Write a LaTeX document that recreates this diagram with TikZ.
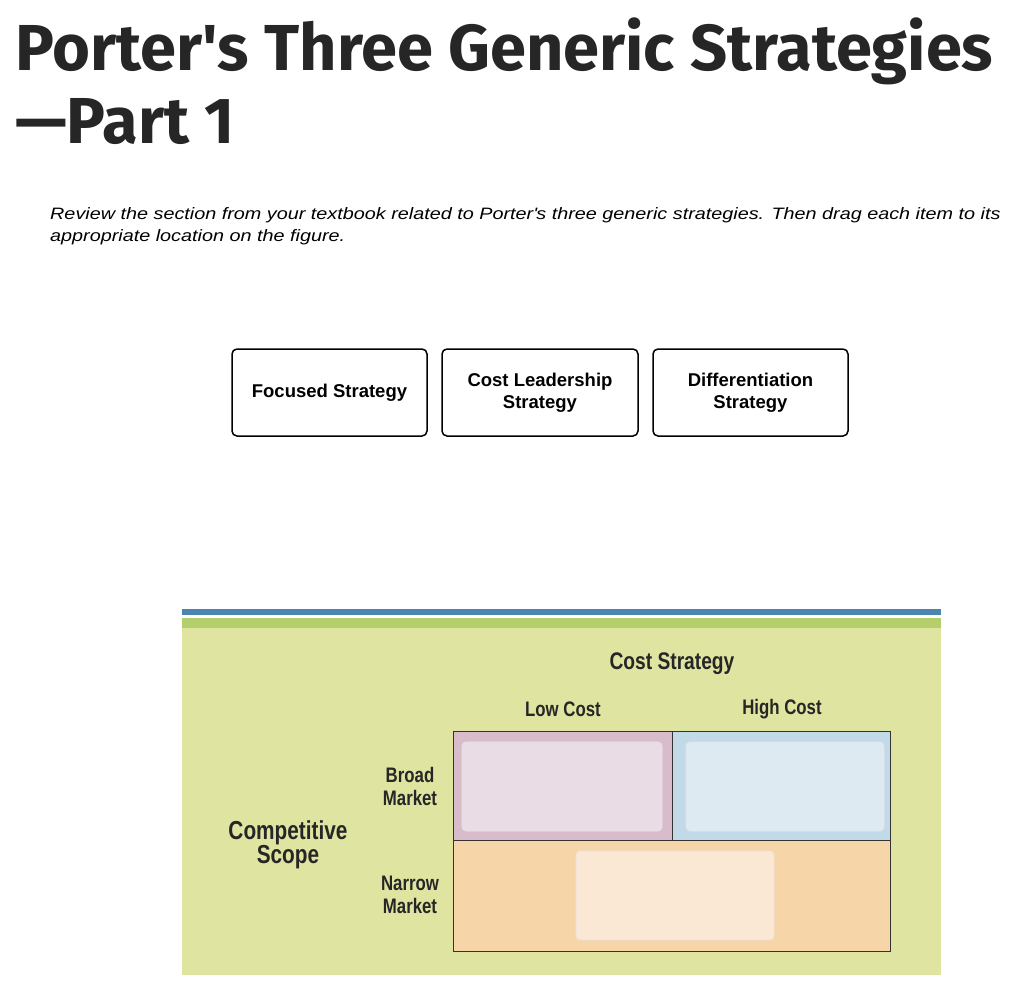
\documentclass[tikz,border=0pt]{standalone}
\usepackage{fontspec}
\setmainfont{Liberation Sans}
\newfontfamily\titlefont{Fira Sans}
\newfontfamily\instrfont[FakeStretch=1.2]{Liberation Sans}
\newfontfamily\condfont[FakeStretch=0.8]{Liberation Sans}
\begin{document}
\begin{tikzpicture}[x=1pt,y=-1pt,
  btn/.style={draw=black,line width=1.5pt,rounded corners=5pt,font=\bfseries\fontsize{18.5}{22}\selectfont,align=center},
  cond/.style={font=\condfont\bfseries\fontsize{24}{24}\selectfont,align=center,text=black!85},
  condsm/.style={font=\condfont\bfseries\fontsize{21}{23}\selectfont,align=center,text=black!85},
  cell/.style={draw=black!80,line width=1pt},
  inner/.style={draw=white!80!gray,rounded corners=4pt,line width=0.6pt}]
\definecolor{bgg}{HTML}{DFE5A1}
\definecolor{barb}{HTML}{4A86B0}
\definecolor{barg}{HTML}{B5CE6C}
\definecolor{pinkc}{HTML}{D8BCCC}\definecolor{pinki}{HTML}{EADCE4}
\definecolor{bluec}{HTML}{C2D9E8}\definecolor{bluei}{HTML}{DDEAF2}
\definecolor{orc}{HTML}{F6D5A9}\definecolor{ori}{HTML}{FAE8D4}
\useasboundingbox (0,0) rectangle (1024,1002);
\node[anchor=base west,inner sep=0,font=\titlefont\bfseries\fontsize{65}{65}\selectfont,text=black!85] (t1) at (15,70) {Porter\textquotesingle s Three Generic Strategies};
\node[anchor=base west,inner sep=0,font=\titlefont\bfseries\fontsize{65}{65}\selectfont,text=black!85] (t2) at (15,143) {—Part 1};
\node[anchor=base west,inner sep=0,font=\instrfont\itshape\fontsize{16.5}{19}\selectfont] (i1) at (50,219) {Review the section from your textbook related to Porter\textquotesingle s three generic strategies. Then drag each item to its};
\node[anchor=base west,inner sep=0,font=\instrfont\itshape\fontsize{16.5}{19}\selectfont] (i2) at (50,241) {appropriate location on the figure.};
\node[btn,minimum width=195pt,minimum height=87pt] (b1) at (329.5,392.5) {Focused Strategy};
\node[btn,minimum width=196pt,minimum height=87pt] (b2) at (540,392.5) {Cost Leadership\\Strategy};
\node[btn,minimum width=195pt,minimum height=87pt] (b3) at (750.5,392.5) {Differentiation\\Strategy};
\fill[barb] (182,609) rectangle (941,615);
\fill[bgg] (182,618) rectangle (941,975);
\fill[barg] (182,618) rectangle (941,628);
\node[cond] (cs) at (672,664) {Cost Strategy};
\node[condsm] (lc) at (563,709) {Low Cost};
\node[condsm] (hc) at (782,709) {High Cost};
\node[condsm] (bm) at (410,786) {Broad\\Market};
\node[condsm] (nm) at (410,895) {Narrow\\Market};
\node[cond,font=\condfont\bfseries\fontsize{26}{24}\selectfont] (sc) at (288,845) {Competitive\\Scope};
\draw[cell,fill=orc] (453,840) rectangle (890,951);
\draw[cell,fill=pinkc] (453,731) rectangle (672,840);
\draw[cell,fill=bluec] (672,731) rectangle (890,840);
\draw[inner,fill=pinki] (462,742) rectangle (662,831);
\draw[inner,fill=bluei] (686,742) rectangle (884,831);
\draw[inner,fill=ori] (576,851) rectangle (774,940);
\end{tikzpicture}
\end{document}
